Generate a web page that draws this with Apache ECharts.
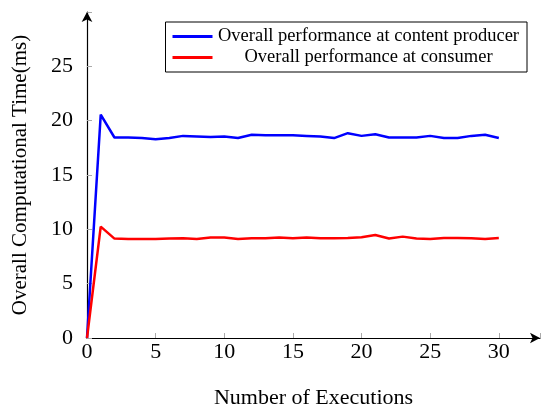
<!DOCTYPE html>
<html><head><meta charset="utf-8">
<script src="https://cdn.jsdelivr.net/npm/echarts@6/dist/echarts.min.js"></script>
<style>html,body{margin:0;padding:0;background:#fff}#c{width:550px;height:414px}</style>
</head><body><div id="c"></div>
<script>
const executions = [0,1,2,3,4,5,6,7,8,9,10,11,12,13,14,15,16,17,18,19,20,21,22,23,24,25,26,27,28,29,30];
const producer = [0,20.55,18.45,18.45,18.4,18.3,18.4,18.6,18.55,18.5,18.55,18.4,18.7,18.65,18.65,18.65,18.6,18.55,18.4,18.85,18.6,18.75,18.45,18.45,18.45,18.6,18.4,18.4,18.6,18.7,18.4];
const consumer = [0,10.25,9.15,9.12,9.12,9.12,9.15,9.18,9.12,9.24,9.24,9.12,9.18,9.18,9.24,9.18,9.24,9.18,9.18,9.2,9.27,9.48,9.15,9.33,9.15,9.12,9.2,9.2,9.18,9.12,9.2];
const seriesNames = ['Overall performance at content producer','Overall performance at consumer'];
const xTicks = [0,5,10,15,20,25,30];
const yTicks = [0,5,10,15,20,25];

const font = 'Liberation Serif';
const chart = echarts.init(document.getElementById('c'));
chart.setOption({
  animation: false,
  textStyle: {fontFamily: font},
  grid: {left: 87, right: 10, top: 12, bottom: 74},
  legend: {
    right: 23, top: 22,
    orient: 'vertical',
    borderColor: '#000', borderWidth: 1,
    padding: [5, 8, 5, 7],
    itemGap: 2,
    itemWidth: 40, itemHeight: 3,
    icon: 'rect',
    data: seriesNames,
    formatter: n => '{c|' + n + '}',
    textStyle: {
      fontFamily: font, fontSize: 18.5, color: '#000',
      rich: {c: {width: 302, align: 'center', fontFamily: font, fontSize: 18.5, color: '#000'}}
    }
  },
  xAxis: {
    type: 'value', min: 0, max: 33, interval: 5,
    name: 'Number of Executions', nameLocation: 'middle', nameGap: 49,
    nameTextStyle: {fontFamily: font, fontSize: 22, color: '#000'},
    axisLine: {lineStyle: {color: '#000', width: 1.2}, symbol: ['none', 'arrow'], symbolSize: [8, 10]},
    axisTick: {lineStyle: {color: '#aaa'}, length: 5, inside: true},
    axisLabel: {fontFamily: font, fontSize: 22, color: '#000', margin: 3,
      formatter: v => xTicks.includes(v) ? String(v) : ''},
    splitLine: {show: false}
  },
  yAxis: {
    type: 'value', min: 0, max: 30, interval: 5,
    name: 'Overall Computational Time(ms)', nameLocation: 'middle', nameGap: 56,
    nameTextStyle: {fontFamily: font, fontSize: 21, color: '#000'},
    axisLine: {lineStyle: {color: '#000', width: 1.2}, symbol: ['none', 'arrow'], symbolSize: [8, 10]},
    axisTick: {lineStyle: {color: '#aaa'}, length: 5, inside: true},
    axisLabel: {fontFamily: font, fontSize: 22, color: '#000', margin: 14,
      formatter: v => yTicks.includes(v) ? String(v) : ''},
    splitLine: {show: false}
  },
  series: [
    {name: seriesNames[0], type: 'line', symbol: 'none', color: '#0000ff',
     lineStyle: {width: 2.5, color: '#0000ff'},
     data: executions.map((x, i) => [x, producer[i]])},
    {name: seriesNames[1], type: 'line', symbol: 'none', color: '#ff0000',
     lineStyle: {width: 2.5, color: '#ff0000'},
     data: executions.map((x, i) => [x, consumer[i]])}
  ]
});
</script></body></html>
